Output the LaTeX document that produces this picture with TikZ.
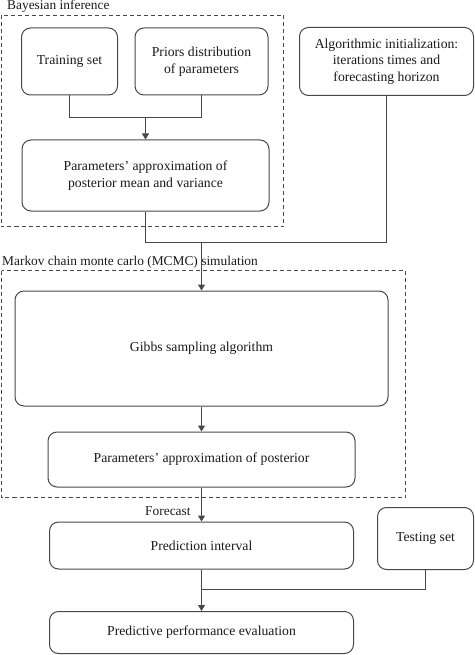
\documentclass[tikz,border=0pt]{standalone}
\usepackage{fontspec}
\setmainfont{Liberation Serif}
\usetikzlibrary{arrows.meta}
\definecolor{linec}{HTML}{484848}
\definecolor{textc}{HTML}{1A1A1A}
\tikzset{
  box/.style={draw=linec, line width=1pt, rounded corners=9pt, align=center, text=textc,
    inner sep=0pt, font=\fontsize{13.7}{16.6}\selectfont},
  grp/.style={draw=linec, line width=1pt, dash pattern=on 4pt off 3pt},
  lbl/.style={text=textc, inner sep=0pt, font=\fontsize{13.4}{15}\selectfont},
  conn/.style={draw=linec, line width=1pt},
  arr/.style={conn, -{Triangle[width=7pt,length=6pt]}}
}
\begin{document}
\begin{tikzpicture}[x=1pt,y=-1pt]
\useasboundingbox (0,0) rectangle (474,655);
% groups
\draw[grp] (1.5,15.5) rectangle (283.5,226.5);
\node[lbl, anchor=base west] (lb1) at (7,10) {Bayesian inference};
\draw[grp] (1.5,270.5) rectangle (405.5,497.5);
\node[lbl, anchor=base west] (lb2) at (2,265) {Markov chain monte carlo (MCMC) simulation};
% nodes
\node[box, minimum width=96pt, minimum height=67pt] (train) at (69.5,61.5) {Training set};
\node[box, minimum width=133pt, minimum height=67pt] (priors) at (201.5,61.5) {Priors distribution\\of parameters};
\node[box, minimum width=247pt, minimum height=71pt] (approx1) at (145.5,175.5) {Parameters' approximation of\\posterior mean and variance};
\node[box, minimum width=174pt, minimum height=68pt] (algo) at (386.5,61.5) {Algorithmic initialization:\\iterations times and\\forecasting horizon};
\node[box, minimum width=373pt, minimum height=115pt] (gibbs) at (201.5,348.5) {Gibbs sampling algorithm};
\node[box, minimum width=307pt, minimum height=55pt] (approx2) at (201.5,459.5) {Parameters' approximation of posterior};
\node[box, minimum width=304pt, minimum height=47pt] (pred) at (201.5,545.5) {Prediction interval};
\node[box, minimum width=96pt, minimum height=62pt] (test) at (425.5,538.5) {Testing set};
\node[box, minimum width=304pt, minimum height=42pt] (eval) at (201.5,632.5) {Predictive performance evaluation};
\node[lbl, anchor=base west] (fc) at (145,515) {Forecast};
% junctions
\coordinate (j1) at (145.5,117.5);
\coordinate (j2) at (201.5,242.5);
\coordinate (j3) at (201.5,589.5);
% connectors
\draw[conn] (train.south) |- (j1) -| (priors.south);
\draw[arr] (j1) -- (approx1.north);
\draw[conn] (approx1.south) |- (j2);
\draw[conn] (algo.south) |- (j2);
\draw[arr] (j2) -- (gibbs.north);
\draw[arr] (gibbs.south) -- (approx2.north);
\draw[arr] (approx2.south) -- (pred.north);
\draw[conn] (test.south) |- (j3);
\draw[arr] (pred.south) -- (eval.north);
\end{tikzpicture}
\end{document}
